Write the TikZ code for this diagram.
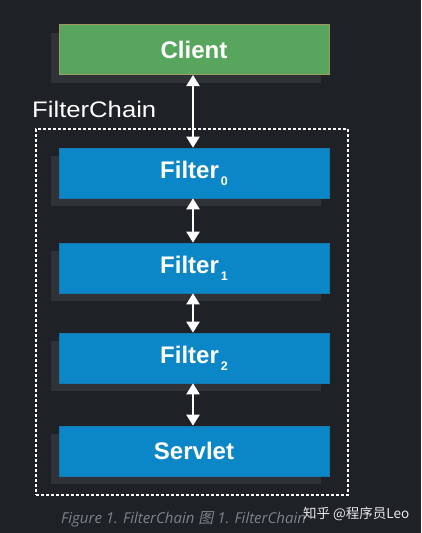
\documentclass[tikz,border=0pt]{standalone}
\usepackage{fontspec}
\setmainfont{Liberation Sans}
\newfontfamily\capfont{Open Sans}
\newfontfamily\cjk{Noto Sans CJK SC}
\newfontfamily\cjkit[FakeSlant=0.2]{Noto Sans CJK SC}
\usetikzlibrary{arrows.meta,shadows}
\definecolor{bgcol}{RGB}{30,33,37}
\definecolor{shcol}{RGB}{47,50,54}
\definecolor{greencol}{RGB}{88,166,94}
\definecolor{greenedge}{RGB}{158,154,94}
\definecolor{bluecol}{RGB}{11,134,198}
\definecolor{bluedge}{RGB}{20,120,175}
\definecolor{capcol}{RGB}{125,131,138}
\definecolor{markcol}{RGB}{232,232,232}
\tikzset{
  box/.style={minimum width=270pt, minimum height=50pt, inner sep=0pt,
    text=white, font=\fontsize{24}{28}\selectfont\bfseries,
    drop shadow={shadow xshift=-8pt, shadow yshift=-8pt, opacity=1, fill=shcol}},
  greenbox/.style={box, fill=greencol, draw=greenedge, line width=1pt},
  bluebox/.style={box, fill=bluecol, draw=bluedge, line width=0.6pt},
  biarrow/.style={draw=white, line width=2pt, {Triangle[width=13pt,length=11pt]}-{Triangle[width=13pt,length=11pt]}, shorten <=0pt, shorten >=0pt},
  chainbox/.style={draw=white, line width=1.3pt, dash pattern=on 3pt off 2pt, minimum width=312pt, minimum height=366pt, inner sep=0pt},
}
\newcommand{\subidx}[1]{\hspace{2pt}\raisebox{-7pt}{\fontsize{12.5}{14}\selectfont\bfseries #1}}
\begin{document}
\begin{tikzpicture}[x=1pt,y=-1pt]
\fill[bgcol] (0,0) rectangle (421,533);
\useasboundingbox (0,0) rectangle (421,533);
\node[chainbox] (chain) at (192,312) {};
\node[anchor=base west, inner sep=0pt, text=white, font=\fontsize{22.5}{27}\selectfont, xscale=1.14] (chainlabel) at (32,117) {FilterChain};
\node[greenbox] (client) at (194,49.5) {Client};
\node[bluebox] (f0) at (194,173) {Filter\subidx{0}};
\node[bluebox] (f1) at (194,268) {Filter\subidx{1}};
\node[bluebox] (f2) at (194,358) {Filter\subidx{2}};
\node[bluebox] (servlet) at (194,451) {Servlet};
\draw[biarrow] ([xshift=-1pt]client.south) -- ([xshift=-1pt]f0.north);
\draw[biarrow] ([xshift=-1pt]f0.south) -- ([xshift=-1pt]f1.north);
\draw[biarrow] ([xshift=-1pt]f1.south) -- ([xshift=-1pt]f2.north);
\draw[biarrow] ([xshift=-1pt]f2.south) -- ([xshift=-1pt]servlet.north);
\node[anchor=base west, inner sep=0pt, text=capcol, font=\fontsize{15}{18}\selectfont\capfont\itshape] (caption) at (61,523) {Figure 1. FilterChain {\cjkit 图} 1. FilterChain};
\node[anchor=base west, inner sep=0pt, text=markcol, font=\fontsize{13.5}{16}\selectfont\cjk] (mark) at (303,518) {知乎 @程序员Leo};
\end{tikzpicture}
\end{document}
